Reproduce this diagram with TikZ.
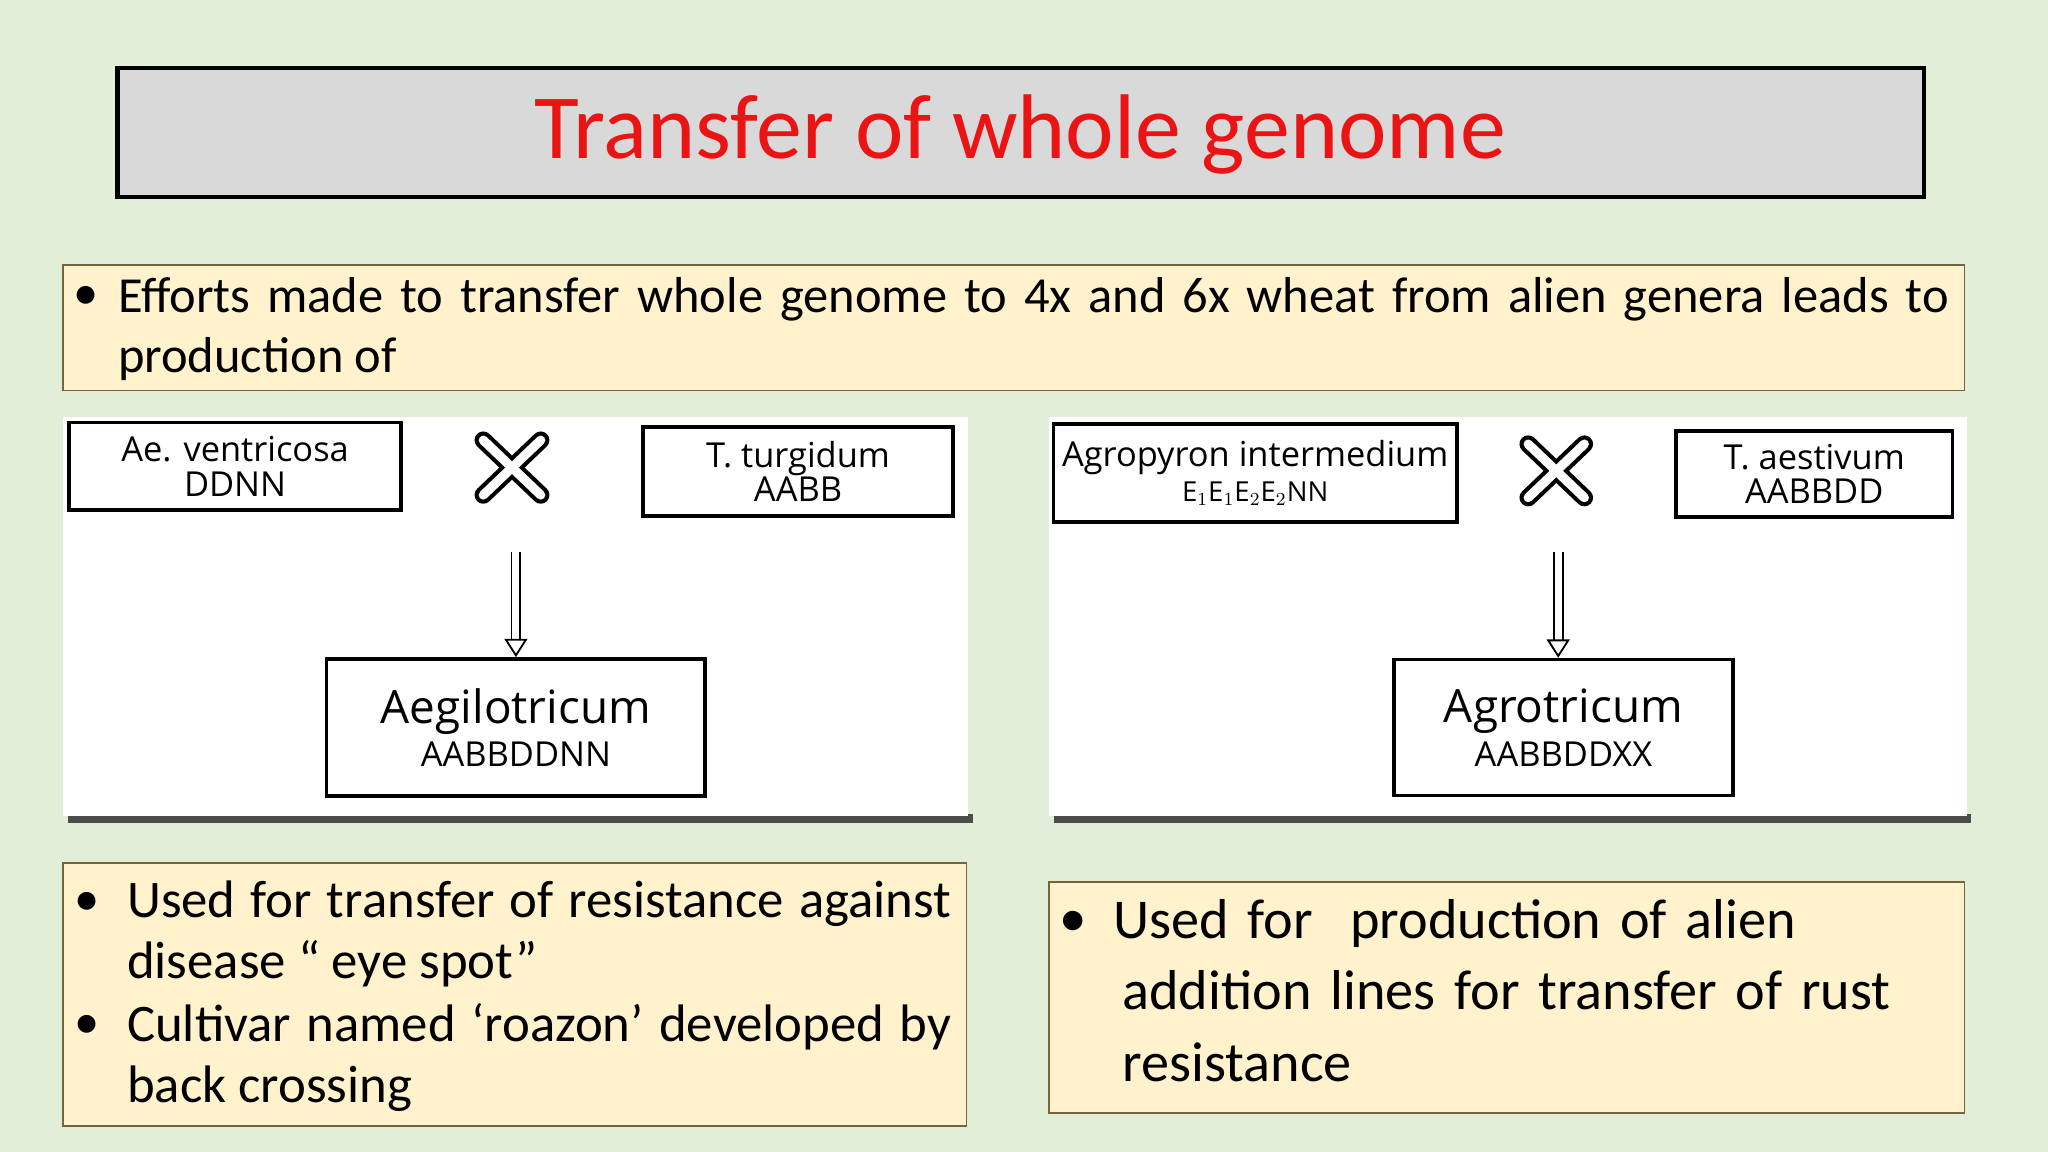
\documentclass[tikz,border=0pt]{standalone}
\usepackage{fontspec}
\setmainfont{Carlito}
\newfontfamily\handfont{Open Sans}
\usetikzlibrary{arrows.meta}
\definecolor{slidebg}{RGB}{226,238,216}
\definecolor{notefill}{RGB}{255,242,204}
\definecolor{noteline}{RGB}{120,100,60}
\definecolor{titlered}{RGB}{235,20,20}
\tikzset{
  notebox/.style={draw=noteline,fill=notefill,line width=0.8pt},
  genbox/.style={draw,line width=1.6pt,align=center,font=\handfont\fontsize{15}{18}\selectfont},
  crossmark/.style={line width=1.8pt,double=white,double distance=4pt,line cap=round},
  downarrow/.style={-{Triangle[open,length=8pt,width=10pt]},double=white,double distance=3pt,line width=0.8pt},
  notetext/.style={anchor=north west,inner sep=0pt,align=justify}
}
\begin{document}
\begin{tikzpicture}[x=0.02cm,y=-0.02cm]
\useasboundingbox (0,0) rectangle (1568,882);
\fill[slidebg] (0,0) rectangle (1568,882);
% title
\draw[fill=black!15,line width=1.8pt] (90,52) rectangle (1473,151);
\node (title) at (781,103) {\fontsize{40}{46}\selectfont\color{titlered}Transfer of whole genome};
% intro
\draw[notebox] (48,203) rectangle (1504,299);
\node[font=\fontsize{22}{26}\selectfont] (b1) at (66,228) {\textbullet};
\node[notetext,text width=28.04cm,font=\fontsize{22}{26}\selectfont] (intro) at (90,212)
  {Efforts made to transfer whole genome to 4x and 6x wheat from alien genera leads to production of};
% panels
\fill[black!70] (52,623) rectangle (745,630);
\fill[black!70] (807,623) rectangle (1509,630);
\fill[white] (48,319) rectangle (741,625);
\fill[white] (803,319) rectangle (1506,625);
% left cross
\node[genbox,minimum width=5.08cm,minimum height=1.34cm] (vent) at (180,357) {Ae. ventricosa\\[-3pt]DDNN};
\node[genbox,minimum width=4.74cm,minimum height=1.36cm] (turg) at (611,361) {T. turgidum\\[-3pt]AABB};
\draw[crossmark] (370,337) -- (414,379) (414,337) -- (370,379);
\node[genbox,minimum width=5.8cm,minimum height=2.1cm,font=\handfont\fontsize{20}{22}\selectfont] (aegi) at (395,557) {Aegilotricum\\[-3pt]{\fontsize{15}{18}\selectfont AABBDDNN}};
\coordinate (la) at (395,423);
\draw[downarrow] (la) -- (la |- aegi.north);
% right cross
\node[genbox,minimum width=6.18cm,minimum height=1.5cm] (agro) at (961,362) {Agropyron intermedium\\[-3pt]{\fontsize{12}{14}\selectfont E$_1$E$_1$E$_2$E$_2$NN}};
\node[genbox,minimum width=4.24cm,minimum height=1.32cm] (aest) at (1389,363) {T. aestivum\\[-3pt]AABBDD};
\draw[crossmark] (1170,340) -- (1213,381) (1213,340) -- (1170,381);
\node[genbox,minimum width=5.2cm,minimum height=2.08cm,font=\handfont\fontsize{20}{22}\selectfont] (agri) at (1197,557) {Agrotricum\\[-3pt]{\fontsize{15}{18}\selectfont AABBDDXX}};
\coordinate (ra) at (1193,423);
\draw[downarrow] (ra) -- (ra |- agri.north);
% bottom notes
\draw[notebox] (48,661) rectangle (740,862);
\node[font=\fontsize{22}{26}\selectfont] (b2) at (67,692) {\textbullet};
\node[font=\fontsize{22}{26}\selectfont] (b3) at (67,786) {\textbullet};
\node[notetext,text width=12.62cm,font=\fontsize{23}{26.7}\selectfont] (used) at (97,674)
  {Used for transfer of resistance against disease “ eye spot”};
\node[notetext,text width=12.62cm,font=\fontsize{23}{26.7}\selectfont] (cultivar) at (97,768)
  {Cultivar named ‘roazon’ developed by back crossing};
\draw[notebox] (803,675) rectangle (1504,852);
\node[font=\fontsize{24}{26}\selectfont] (b4) at (822,707) {\textbullet};
\node[notetext,text width=13cm,align=left,font=\fontsize{24.5}{31.3}\selectfont] (rightnote) at (852,688)
  {Used for\ \ production of alien\\ \hspace*{4pt}addition lines for transfer of rust\\ \hspace*{4pt}resistance};
\end{tikzpicture}
\end{document}
